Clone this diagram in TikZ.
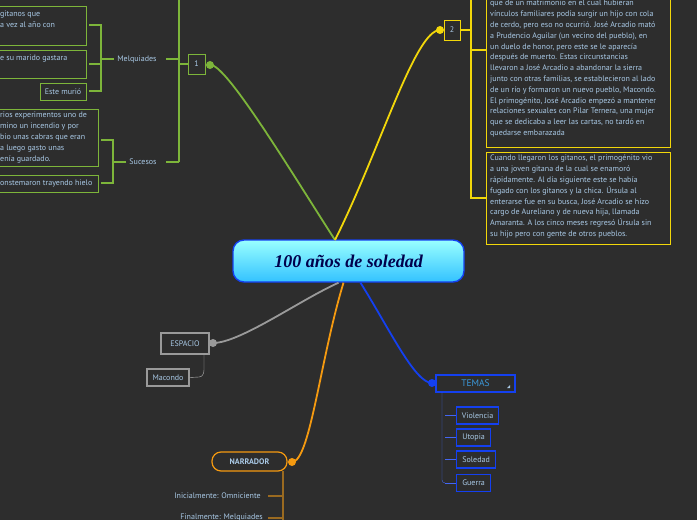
\documentclass[tikz,border=0pt]{standalone}
\usepackage{fontspec}
\setmainfont{PT Sans}
\newfontfamily\titlefont{Liberation Serif}
\definecolor{bg}{HTML}{2D2D2D}
\definecolor{txt}{HTML}{A9C9E6}
\definecolor{gr}{HTML}{7DB53A}
\definecolor{ye}{HTML}{F2D70A}
\definecolor{bl}{HTML}{1440F0}
\definecolor{gy}{HTML}{9A9A9A}
\definecolor{or}{HTML}{F59A10}
\definecolor{br}{HTML}{9A6A20}
\tikzset{
 t/.style={text=txt,font=\fontsize{8}{10.8}\selectfont,inner sep=0pt},
 tl/.style={t,align=left,anchor=north west},
 dot/.style={circle,fill,inner sep=0pt,minimum size=8pt},
}
\begin{document}
\begin{tikzpicture}[x=1pt,y=-1pt]
\useasboundingbox[fill=bg] (0,0) rectangle (697,520);
% central
\node[draw=bl,line width=1.4pt,rounded corners=11pt,minimum width=231pt,minimum height=42pt,
  top color=cyan!40!white,bottom color=cyan!70!blue!80,
  font=\titlefont\bfseries\itshape\fontsize{18}{20}\selectfont,text=blue!30!black] (c) at (348.5,261) {100 años de soledad};
% ---------- green branch
\coordinate (gd) at (210,65);
\node[draw=gr,line width=1pt,t,minimum width=17pt,minimum height=20pt] (n1) at (196.5,64) {1};
\draw[gr,line width=1.8pt] (gd) .. controls (225,62) and (290,170) .. (335,240);
\node[dot,fill=gr] at (gd) {};
\draw[gr,line width=1.3pt] (n1.west) -- (179,64);
\draw[gr,line width=1.3pt] (179,0) -- (179,162);
\node[t] (mel) at (137,59) {Melquiades};
\node[t] (suc) at (143,162) {Sucesos};
\draw[gr,line width=1.3pt] (179,59) -- (166,59) (179,162)--(166,162);
\draw[gr,line width=1.3pt] (mel.west)++(-3,0) -- (101,59);
\draw[gr,line width=1.3pt] (89,25) -- (101,25) -- (101,91) -- (89,91) (89,64)--(101,64);
\draw[gr,line width=1.3pt] (suc.west)++(-3,0) -- (113,162);
\draw[gr,line width=1.3pt] (101,140) -- (113,140) -- (113,183) -- (101,183);
\draw[gr,line width=0.9pt] (-2,6) rectangle (86,45);
\node[tl] at (0,11) {gitanos que\\a vez al año con};
\draw[gr,line width=0.9pt] (-2,50) rectangle (86,78);
\node[t,anchor=west] at (0,59) {e su marido gastara};
\draw[gr,line width=0.9pt] (40,83) rectangle (86,100);
\node[t] at (63,91.5) {Este murió};
\draw[gr,line width=0.9pt] (-2,109) rectangle (98,166);
\node[tl] at (0,112) {rios experimentos uno de\\mino un incendio y por\\bio unas cabras que eran\\a luego gasto unas\\enía guardado.};
\draw[gr,line width=0.9pt] (-2,175) rectangle (98,192);
\node[t,anchor=west] at (0,183.5) {onstemaron trayendo hielo};
% ---------- yellow branch
\coordinate (yd) at (440,30);
\node[draw=ye,line width=1pt,t,minimum width=16pt,minimum height=20pt] (n2) at (452,30) {2};
\draw[ye,line width=1.8pt] (335,240) .. controls (380,150) and (415,30) .. (yd);
\node[dot,fill=ye] at (yd) {};
\draw[ye,line width=1.3pt] (n2.east) -- (471,30);
\draw[ye,line width=1.3pt] (471,0) -- (471,198) -- (486,198) (471,50)--(486,50);
\draw[ye,line width=0.9pt] (486,-5) rectangle (670,147);
\node[tl] at (490,0) {que de un matrimonio en el cual hubieran\\vínculos familiares podía surgir un hijo con cola\\de cerdo, pero eso no ocurrió. José Arcadio mató\\a Prudencio Aguilar (un vecino del pueblo), en\\un duelo de honor, pero este se le aparecía\\después de muerto. Estas circunstancias\\llevaron a José Arcadio a abandonar la sierra\\junto con otras familias, se establecieron al lado\\de un río y formaron un nuevo pueblo, Macondo.\\El primogénito, José Arcadio empezó a mantener\\relaciones sexuales con Pilar Ternera, una mujer\\que se dedicaba a leer las cartas, no tardó en\\quedarse embarazada};
\draw[ye,line width=0.9pt] (486,152) rectangle (670,244);
\node[tl] at (490,155) {Cuando llegaron los gitanos, el primogénito vio\\a una joven gitana de la cual se enamoró\\rápidamente. Al día siguiente este se había\\fugado con los gitanos y la chica. Úrsula al\\enterarse fue en su busca, José Arcadio se hizo\\cargo de Aureliano y de nueva hija, llamada\\Amaranta. A los cinco meses regresó Úrsula sin\\su hijo pero con gente de otros pueblos.};
% ---------- gray
\coordinate (sd) at (213,343);
\node[draw=gy,line width=1.2pt,t,minimum width=48pt,minimum height=21pt] (esp) at (185,343.5) {ESPACIO};
\draw[gy,line width=1.8pt] (c.south) ++(-10,0) .. controls (300,300) and (240,343) .. (sd);
\node[dot,fill=gy] at (sd) {};
\node[draw=gy,line width=1.2pt,t,minimum width=42pt,minimum height=17pt] (mac) at (168,377.5) {Macondo};
\draw[gy!70] (esp.south) ++(19,0) -- (204,370) to[out=-90,in=0] (199,377) -- (mac.east);
% ---------- blue
\coordinate (bd) at (432,383);
\node[draw=bl,line width=1.2pt,text=cyan!70!blue!80,font=\fontsize{9.5}{11}\selectfont,minimum width=79pt,minimum height=17pt,inner sep=0pt] (tem) at (475.5,383.5) {TEMAS};
\fill[txt] (510,388) -- (507,388) -- (510,385) -- cycle;
\draw[bl,line width=1.8pt] (c.south) ++(12,0) .. controls (390,330) and (415,383) .. (bd);
\node[dot,fill=bl] at (bd) {};
\foreach \n/\w/\y in {Violencia/42/415.5,Utopia/34/437.5,Soledad/39/459.5,Guerra/34/483}{
  \node[draw=bl,line width=1.2pt,t,minimum width=\w pt,minimum height=17pt,anchor=west] (\n) at (456,\y) {\n};
  \draw[bl!80] (445,\y) -- (\n.west);
}
\draw[bl!80] (442,392) -- (442,480) to[out=-90,in=180] (445,483);
% ---------- orange
\coordinate (od) at (292,462);
\node[draw=or,line width=1.2pt,rounded corners=9pt,text=txt,font=\bfseries\fontsize{8}{9}\selectfont,minimum width=75pt,minimum height=19pt,inner sep=0pt] (nar) at (249.5,461.5) {NARRADOR};
\draw[or,line width=1.8pt] (c.south) ++(-5,0) .. controls (320,360) and (310,462) .. (od);
\node[dot,fill=or] at (od) {};
\draw[br,line width=1.3pt] (283,471) -- (283,522) (268,496) -- (283,496) (268,518) -- (283,518);
\node[t,anchor=east] (ini) at (261,496) {Inicialmente: Omniciente};
\node[t,anchor=east] (fin) at (263,517) {Finalmente: Melquiades};
\end{tikzpicture}
\end{document}
